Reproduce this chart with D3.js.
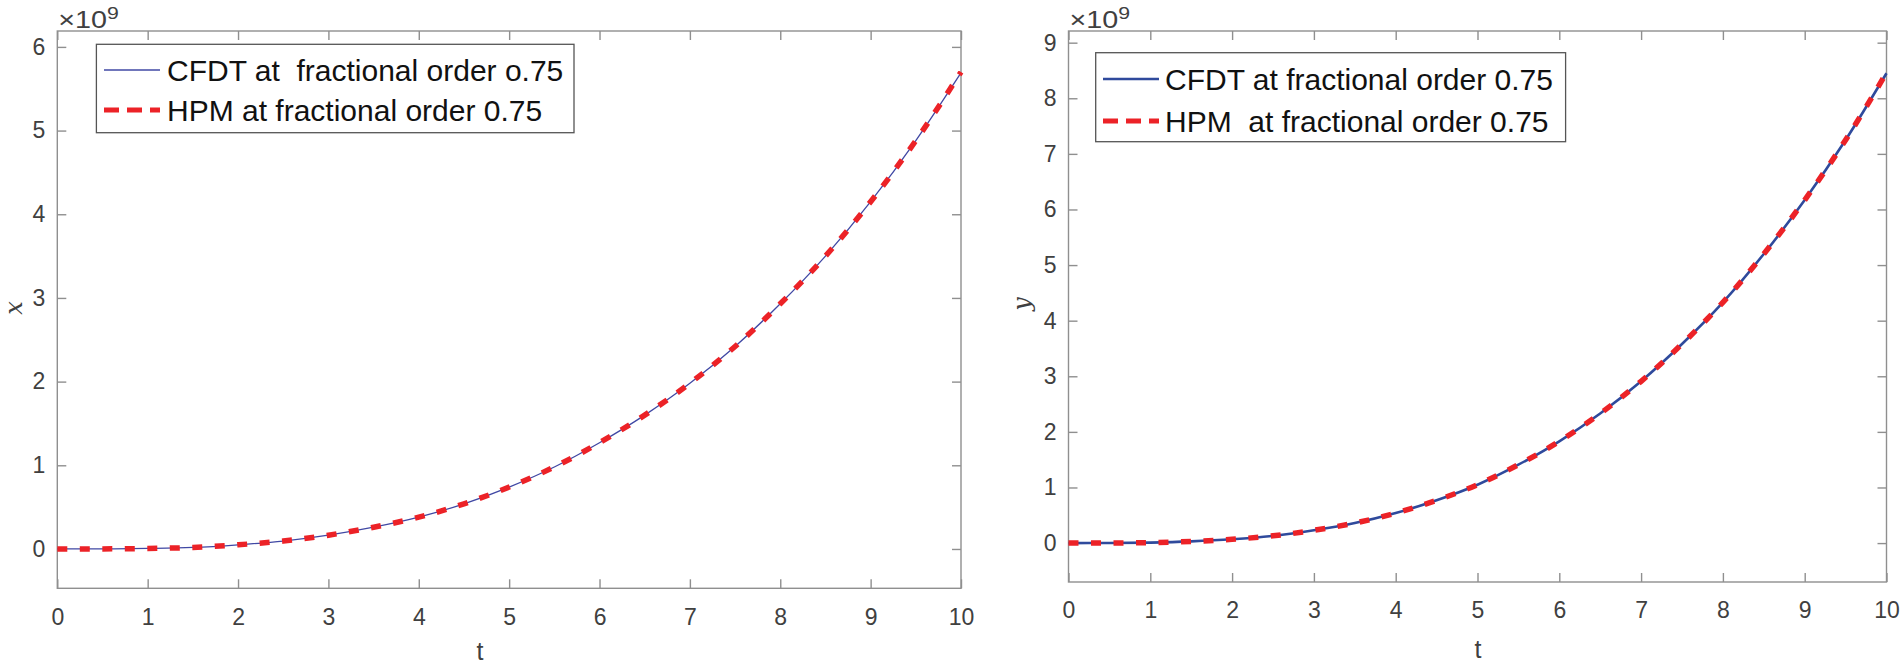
<!DOCTYPE html>
<html>
<head>
<meta charset="utf-8">
<script src="https://cdn.jsdelivr.net/npm/d3@7"></script>
<style>
  body { margin: 0; background: #fff; }
  svg { display: block; font-family: "Liberation Sans", Helvetica, Arial, sans-serif; }
</style>
</head>
<body>
<div id="root"></div>
<script>
// time axis, shared by both panels
const tValues = [0, 0.5, 1, 1.5, 2, 2.5, 3, 3.5, 4, 4.5, 5, 5.5, 6, 6.5, 7, 7.5, 8, 8.5, 9, 9.5, 10];

// x(t) in units of 1e9
const xCFDT = [0, 0.001, 0.006, 0.018, 0.05, 0.095, 0.165, 0.26, 0.38, 0.54, 0.74, 0.98, 1.27, 1.6, 1.98, 2.42, 2.93, 3.5, 4.15, 4.88, 5.69];
const xHPM = [0, 0.001, 0.006, 0.018, 0.05, 0.095, 0.165, 0.26, 0.38, 0.54, 0.74, 0.98, 1.27, 1.6, 1.98, 2.42, 2.93, 3.5, 4.15, 4.88, 5.7];

// y(t) in units of 1e9
const yCFDT = [0, 0.001, 0.009, 0.03, 0.068, 0.13, 0.23, 0.36, 0.54, 0.77, 1.05, 1.41, 1.83, 2.33, 2.91, 3.58, 4.33, 5.2, 6.17, 7.25, 8.45];
const yHPM = [0, 0.001, 0.009, 0.03, 0.068, 0.13, 0.23, 0.36, 0.54, 0.77, 1.05, 1.41, 1.83, 2.33, 2.91, 3.58, 4.33, 5.2, 6.17, 7.25, 8.46];

const xTicks = [0, 1, 2, 3, 4, 5, 6, 7, 8, 9, 10];
const leftYTicks = [0, 1, 2, 3, 4, 5, 6];
const rightYTicks = [0, 1, 2, 3, 4, 5, 6, 7, 8, 9];

const leftLegend = ['CFDT at  fractional order o.75', 'HPM at fractional order 0.75'];
const rightLegend = ['CFDT at fractional order 0.75', 'HPM  at fractional order 0.75'];

const W = 1900;
const H = 666;

const svg = d3
  .select('#root')
  .append('svg')
  .attr('width', W)
  .attr('height', H);

function drawPanel(p) {
  const x = d3.scaleLinear().domain([0, 10]).range([p.left, p.right]);
  const y = d3.scaleLinear().domain(p.yDomain).range([p.bottom, p.top]);
  const g = svg.append('g');
  const axisColor = '#8f8f8f';
  const labelColor = '#404040';

  // axes box
  g.append('rect')
    .attr('x', p.left)
    .attr('y', p.top)
    .attr('width', p.right - p.left)
    .attr('height', p.bottom - p.top)
    .attr('fill', 'none')
    .attr('stroke', axisColor)
    .attr('stroke-width', 1.4);

  const bottomAxis = g
    .append('g')
    .attr('transform', `translate(0, ${p.bottom})`)
    .call(d3.axisBottom(x).tickValues(xTicks).tickSizeInner(-9).tickSizeOuter(0).tickPadding(20).tickFormat(d3.format('d')));

  const topAxis = g
    .append('g')
    .attr('transform', `translate(0, ${p.top})`)
    .call(d3.axisTop(x).tickValues(xTicks).tickSizeInner(-9).tickSizeOuter(0).tickFormat(''));

  const leftAxis = g
    .append('g')
    .attr('transform', `translate(${p.left}, 0)`)
    .call(d3.axisLeft(y).tickValues(p.yTicks).tickSizeInner(-9).tickSizeOuter(0).tickPadding(12).tickFormat(d3.format('d')));

  const rightAxis = g
    .append('g')
    .attr('transform', `translate(${p.right}, 0)`)
    .call(d3.axisRight(y).tickValues(p.yTicks).tickSizeInner(-9).tickSizeOuter(0).tickFormat(''));

  [bottomAxis, topAxis, leftAxis, rightAxis].forEach((a) => {
    a.select('.domain').remove();
    a.selectAll('line').attr('stroke', axisColor).attr('stroke-width', 1.4);
    a.selectAll('text')
      .attr('fill', labelColor)
      .style('font-size', '23px')
      .style('font-family', '"Liberation Sans", Helvetica, Arial, sans-serif');
  });

  // exponent label (x10^9), a little wide like the original
  const expo = g
    .append('text')
    .attr('transform', `translate(${p.left + 1}, 28) scale(1.25, 1)`)
    .attr('fill', labelColor)
    .style('font-size', '23px');
  expo.append('tspan').text('\u00d710');
  expo.append('tspan').attr('dy', -9).style('font-size', '17px').text('9');

  // axis labels
  g.append('text')
    .attr('x', p.tLabelX)
    .attr('y', p.tLabelY)
    .attr('text-anchor', 'middle')
    .attr('fill', labelColor)
    .style('font-size', '25px')
    .text('t');

  g.append('text')
    .attr('transform', `translate(${p.yLabelX}, ${p.yLabelY}) rotate(-90)`)
    .attr('text-anchor', 'middle')
    .attr('fill', labelColor)
    .style('font-family', '"DejaVu Serif", "Liberation Serif", serif')
    .style('font-style', 'italic')
    .style('font-size', '24px')
    .text(p.yName);

  // curves
  const line = d3
    .line()
    .x((d) => x(d[0]))
    .y((d) => y(d[1]))
    .curve(d3.curveMonotoneX);

  g.append('path')
    .datum(tValues.map((t, i) => [t, p.cfdt[i]]))
    .attr('d', line)
    .attr('fill', 'none')
    .attr('stroke', p.blue)
    .attr('stroke-width', p.blueWidth);

  g.append('path')
    .datum(tValues.map((t, i) => [t, p.hpm[i]]))
    .attr('d', line)
    .attr('fill', 'none')
    .attr('stroke', '#ec2227')
    .attr('stroke-width', 5.5)
    .attr('stroke-dasharray', '10,12.5');

  // legend
  const lg = g.append('g');
  lg.append('rect')
    .attr('x', p.legend.x0)
    .attr('y', p.legend.y0)
    .attr('width', p.legend.x1 - p.legend.x0)
    .attr('height', p.legend.y1 - p.legend.y0)
    .attr('fill', '#fff')
    .attr('stroke', '#555')
    .attr('stroke-width', 1.3);

  lg.append('line')
    .attr('x1', p.legend.lineX0)
    .attr('x2', p.legend.lineX1)
    .attr('y1', p.legend.rows[0])
    .attr('y2', p.legend.rows[0])
    .attr('stroke', p.blue)
    .attr('stroke-width', p.blueWidth);

  lg.append('line')
    .attr('x1', p.legend.lineX0)
    .attr('x2', p.legend.lineX1)
    .attr('y1', p.legend.rows[1])
    .attr('y2', p.legend.rows[1])
    .attr('stroke', '#ec2227')
    .attr('stroke-width', 5)
    .attr('stroke-dasharray', '15,8');

  lg.selectAll('text.entry')
    .data(p.labels)
    .enter()
    .append('text')
    .attr('class', 'entry')
    .attr('x', p.legend.textX)
    .attr('y', (d, i) => p.legend.rows[i])
    .attr('dy', '0.36em')
    .attr('fill', '#111')
    .style('font-size', '30px')
    .style('white-space', 'pre')
    .text((d) => d);
}

drawPanel({
  left: 57.3,
  right: 961,
  top: 31,
  bottom: 588.3,
  yDomain: [-0.47, 6.19],
  yTicks: leftYTicks,
  cfdt: xCFDT,
  hpm: xHPM,
  blue: '#4048a4',
  blueWidth: 1.3,
  yName: 'x',
  yLabelX: 22,
  yLabelY: 308,
  tLabelX: 480,
  tLabelY: 660,
  labels: leftLegend,
  legend: { x0: 96.4, x1: 574, y0: 44.3, y1: 132.7, lineX0: 104, lineX1: 160, textX: 167, rows: [70, 110] }
});

drawPanel({
  left: 1068.5,
  right: 1886.5,
  top: 31,
  bottom: 582,
  yDomain: [-0.7, 9.21],
  yTicks: rightYTicks,
  cfdt: yCFDT,
  hpm: yHPM,
  blue: '#2f4a9c',
  blueWidth: 2.6,
  yName: 'y',
  yLabelX: 1030,
  yLabelY: 304,
  tLabelX: 1478,
  tLabelY: 658,
  labels: rightLegend,
  legend: { x0: 1095.7, x1: 1565.6, y0: 52.7, y1: 141.7, lineX0: 1103, lineX1: 1159, textX: 1165, rows: [79, 121] }
});
</script>
</body>
</html>
